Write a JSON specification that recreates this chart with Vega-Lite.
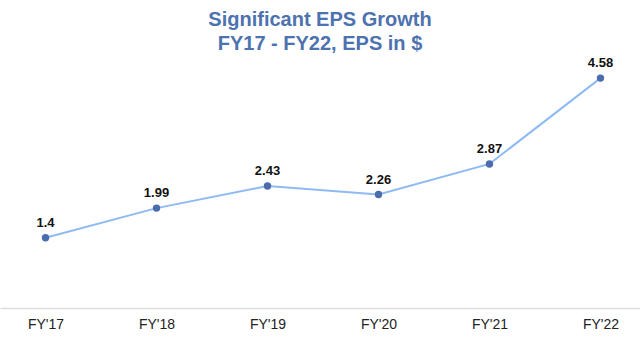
{
  "$schema": "https://vega.github.io/schema/vega-lite/v6.json",
  "autosize": "none",
  "width": 640,
  "height": 251,
  "padding": {"top": 57, "left": 0, "right": 0, "bottom": 29},
  "background": "white",
  "title": {
    "text": ["Significant EPS Growth", "FY17 - FY22, EPS in $"],
    "font": "Liberation Sans",
    "fontSize": 20,
    "fontWeight": "bold",
    "color": "#4d72b0",
    "anchor": "middle",
    "frame": "group",
    "lineHeight": 24,
    "offset": 3
  },
  "config": {"view": {"stroke": null}},
  "data": {
    "values": [
      {"year": "FY'17", "eps": 1.4, "label": "1.4"},
      {"year": "FY'18", "eps": 1.99, "label": "1.99"},
      {"year": "FY'19", "eps": 2.43, "label": "2.43"},
      {"year": "FY'20", "eps": 2.26, "label": "2.26"},
      {"year": "FY'21", "eps": 2.87, "label": "2.87"},
      {"year": "FY'22", "eps": 4.58, "label": "4.58"}
    ]
  },
  "encoding": {
    "x": {
      "field": "year",
      "type": "ordinal",
      "sort": null,
      "scale": {"type": "point", "range": [0, 646], "padding": 0.41},
      "axis": {
        "title": null,
        "labelAngle": 0,
        "ticks": false,
        "grid": false,
        "domainColor": "#dddddd",
        "domainWidth": 1.5,
        "labelFont": "Liberation Sans",
        "labelFontSize": 14,
        "labelColor": "#222222",
        "labelPadding": 9
      }
    },
    "y": {
      "field": "eps",
      "type": "quantitative",
      "scale": {"domain": [0, 5], "nice": false},
      "axis": null
    }
  },
  "layer": [
    {
      "mark": {"type": "line", "color": "#8fbaf3", "strokeWidth": 2}
    },
    {
      "mark": {"type": "point", "filled": true, "opacity": 1, "color": "#4a6ead", "size": 55}
    },
    {
      "mark": {"type": "text", "dy": -15, "font": "Liberation Sans", "fontSize": 13, "fontWeight": "bold", "color": "#111111"},
      "encoding": {"text": {"field": "label"}}
    }
  ]
}
